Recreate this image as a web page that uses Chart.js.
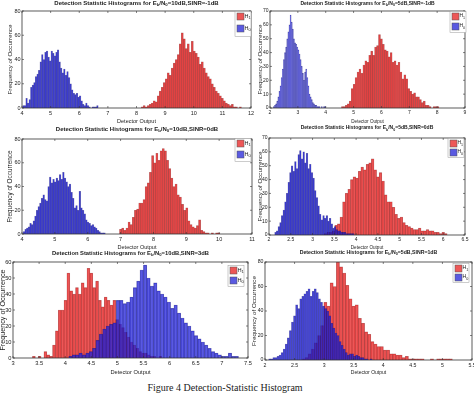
<!DOCTYPE html>
<html>
<head>
<meta charset="utf-8">
<script src="https://cdn.jsdelivr.net/npm/chart.js@4.4.1/dist/chart.umd.min.js"></script>
<style>
  html, body { margin: 0; padding: 0; background: #fff; }
  body { width: 474px; height: 398px; position: relative; overflow: hidden; }
  canvas.panel { position: absolute; }
  #caption {
    position: absolute; left: 0; width: 450px; top: 382px;
    text-align: center; font: 10px "Liberation Serif", "Times New Roman", serif; color: #222;
  }
</style>
</head>
<body>
<div id="caption">Figure 4 Detection-Statistic Histogram</div>
<script>
// ===== data =====
const titles = [
  "Detection Statistic Histograms for E_b/N_0=10dB,SINR=-1dB",
  "Detection Statistic Histograms for E_b/N_0=5dB,SINR=-1dB",
  "Detection Statistic Histograms for E_b/N_0=10dB,SINR=0dB",
  "Detection Statistic Histograms for E_b/N_0=5dB,SINR=0dB",
  "Detection Statistic Histograms for E_b/N_0=10dB,SINR=3dB",
  "Detection Statistic Histograms for E_b/N_0=5dB,SINR=1dB"
];
const legendLabels = ["H_1", "H_0"];
const xLabel = "Detector Output";
const yLabel = "Frequency of Occurrence";

// panel 1 : Eb/N0=10dB, SINR=-1dB
const p1XTicks = [4, 5, 6, 7, 8, 9, 10, 11, 12];
const p1YTicks = [0, 20, 40, 60, 80];
const p1H1Start = 8.2, p1H1Width = 0.07;
const p1H1 = [1,2,1,2,3,4,6,5,10,14,17,21,24,29,27,33,37,40,44,53,62,57,49,53,46,55,47,45,42,36,38,33,29,26,24,20,17,14,12,10,8,6,4,3,2,3,1,1,0,1];
const p1H0Start = 4.05, p1H0Width = 0.055;
const p1H0 = [2,2,8,4,7,17,19,21,26,28,31,38,44,40,46,47,42,39,47,45,43,46,48,38,33,29,32,27,30,25,20,15,12,11,12,9,10,6,3,2,4,2,1,0,1,1,1,2];

// panel 2 : Eb/N0=5dB, SINR=-1dB
const p2XTicks = [2, 3, 4, 5, 6, 7, 8, 9];
const p2YTicks = [0, 10, 20, 30, 40, 50, 60, 70];
const p2H1Start = 4.6, p2H1Width = 0.07;
const p2H1 = [1,1,2,3,5,14,17,22,26,28,25,31,34,33,38,41,38,44,45,53,50,46,42,41,37,40,33,34,31,33,26,21,24,21,14,12,10,11,8,8,6,4,5,2,2,1,0,1,1,1];
const p2H0Start = 2.14, p2H0Width = 0.04;
const p2H0 = [1,2,3,5,8,12,16,22,28,35,40,44,50,55,60,67,62,57,50,47,46,44,42,39,35,30,25,20,26,28,22,16,10,8,6,4,3,2,2,1,1,1,0,1,0,1,1,0];

// panel 3 : Eb/N0=10dB, SINR=0dB
const p3XTicks = [4, 5, 6, 7, 8, 9, 10, 11];
const p3YTicks = [0, 20, 40, 60, 80];
const p3H1Start = 7.0, p3H1Width = 0.065;
const p3H1 = [4,5,3,5,10,8,14,20,21,26,26,29,40,43,52,66,60,68,62,70,72,70,62,55,47,40,42,33,31,25,20,22,11,8,6,5,7,12,3,2,1,1,0,1,0,1,1];
const p3H0Start = 4.06, p3H0Width = 0.05;
const p3H0 = [2,4,5,6,9,8,11,15,20,23,26,30,33,29,28,40,48,43,46,44,47,45,50,46,52,47,44,40,42,35,30,22,24,20,36,22,20,17,12,10,9,7,8,6,5,3,2,1,1,1];

// panel 4 : Eb/N0=5dB, SINR=0dB
const p4XTicks = [2, 2.5, 3, 3.5, 4, 4.5, 5, 5.5, 6, 6.5];
const p4YTicks = [0, 10, 20, 30, 40, 50, 60, 70];
const p4H1Start = 3.3, p4H1Width = 0.06;
const p4H1 = [1,2,2,3,7,8,13,24,30,33,40,42,41,46,49,47,51,52,55,47,42,45,39,29,24,24,20,15,12,13,9,7,6,5,4,4,5,3,3,4,3,3,2,2,1,2,1];
const p4H0Start = 2.15, p4H0Width = 0.038;
const p4H0 = [2,3,6,9,14,18,24,30,38,45,50,46,53,48,58,61,55,60,52,59,48,51,45,41,32,27,21,15,11,14,12,14,10,12,8,5,6,4,3,3,2,2,2,1,1,1,1,1];

// panel 5 : Eb/N0=10dB, SINR=3dB
const p5XTicks = [3, 3.5, 4, 4.5, 5, 5.5, 6, 6.5, 7, 7.5];
const p5YTicks = [0, 10, 20, 30, 40, 50, 60];
const p5H1Start = 3.4, p5H1Width = 0.055;
const p5H1 = [1,0,1,0,4,2,1,8,17,30,30,36,53,42,40,44,40,47,44,56,53,44,48,36,32,38,36,33,36,24,21,19,16,13,10,8,6,4,3,3,2,1,1,0,1];
const p5H0Start = 4.1, p5H0Width = 0.065;
const p5H0 = [1,2,2,3,2,3,4,6,11,15,18,20,21,22,36,36,34,35,38,44,48,55,58,50,45,47,42,40,38,35,31,33,28,25,22,20,17,14,12,10,8,6,4,3,2,1,1,3,1,1];

// panel 6 : Eb/N0=5dB, SINR=1dB
const p6XTicks = [2, 2.5, 3, 3.5, 4, 4.5, 5, 5.5];
const p6YTicks = [0, 20, 40, 60, 80];
const p6H1Start = 2.65, p6H1Width = 0.053;
const p6H1 = [1,2,5,9,14,20,28,47,44,63,60,80,76,71,61,50,44,45,34,30,23,21,15,13,11,11,8,8,5,5,4,4,2,3,1,1,1,1,1,0,0,1,0,1,1,1,1,1];
const p6H0Start = 2.08, p6H0Width = 0.035;
const p6H0 = [1,1,2,2,3,4,6,9,13,18,24,31,36,45,42,50,52,54,56,58,52,56,58,55,50,47,44,42,40,36,30,26,22,20,15,12,9,6,4,5,5,3,4,3,2,2,1,1,0,1];

// ===== styling =====
const FONT = '"Liberation Sans", Arial, sans-serif';
const TEXT = '#222';
const redFill = 'rgba(232,40,40,0.78)', redEdge = 'rgba(120,10,10,0.55)';
const blueFill = 'rgba(35,35,215,0.75)', blueEdge = 'rgba(10,10,110,0.55)';

const bins = (start, width, counts) =>
  counts.map((c, i) => ({ x: +(start + width * i).toFixed(4), y: c }));

// plot rectangle [left, top, right, bottom] in page pixels + text sizes
const panels = [
  { plot: [22, 11, 251, 108], tick: 5.5, xt: 5.5, yt: 6.2, tf: 6, tDy: 7.5, xtDy: 13.7, ytDx: 12, lg: [14, 2, 12],
    xTicks: p1XTicks, yTicks: p1YTicks, h1: bins(p1H1Start, p1H1Width, p1H1), h0: bins(p1H0Start, p1H0Width, p1H0) },
  { plot: [270, 11, 465, 108], tick: 5, xt: 4.6, yt: 6.2, tf: 5, tDy: 7.7, xtDy: 14, ytDx: 9.5, lg: [13, 2, 10],
    xTicks: p2XTicks, yTicks: p2YTicks, h1: bins(p2H1Start, p2H1Width, p2H1), h0: bins(p2H0Start, p2H0Width, p2H0) },
  { plot: [22, 139, 252, 234], tick: 5.5, xt: 5.5, yt: 6.4, tf: 6, tDy: 10, xtDy: 13.5, ytDx: 12, lg: [15, 1, 11],
    xTicks: p3XTicks, yTicks: p3YTicks, h1: bins(p3H1Start, p3H1Width, p3H1), h0: bins(p3H0Start, p3H0Width, p3H0) },
  { plot: [269, 138, 465, 235], tick: 5, xt: 4.6, yt: 6.2, tf: 5, tDy: 10, xtDy: 13, ytDx: 9, lg: [15, 2, 9],
    xTicks: p4XTicks, yTicks: p4YTicks, h1: bins(p4H1Start, p4H1Width, p4H1), h0: bins(p4H0Start, p4H0Width, p4H0) },
  { plot: [13, 262, 248, 358], tick: 5.7, xt: 5.7, yt: 7.2, tf: 5.8, tDy: 9, xtDy: 14, ytDx: 10, lg: [18, 5, 10],
    xTicks: p5XTicks, yTicks: p5YTicks, h1: bins(p5H1Start, p5H1Width, p5H1), h0: bins(p5H0Start, p5H0Width, p5H0) },
  { plot: [265, 262, 472, 360], tick: 5.2, xt: 5, yt: 6.2, tf: 5.2, tDy: 9.5, xtDy: 13, ytDx: 11, lg: [17, 3, 9],
    xTicks: p6XTicks, yTicks: p6YTicks, h1: bins(p6H1Start, p6H1Width, p6H1), h0: bins(p6H0Start, p6H0Width, p6H0) }
];

// text with "_x" subscripts
function drawRich(ctx, text, x, y, size, weight, align) {
  const parts = text.split(/_(\w)/);
  const big = `${weight} ${size}px ${FONT}`;
  const small = `${weight} ${(size * 0.72).toFixed(2)}px ${FONT}`;
  let w = 0;
  parts.forEach((s, i) => { ctx.font = i % 2 ? small : big; w += ctx.measureText(s).width; });
  let cx = align === 'center' ? x - w / 2 : x;
  ctx.textAlign = 'left';
  ctx.textBaseline = 'middle';
  parts.forEach((s, i) => {
    ctx.font = i % 2 ? small : big;
    ctx.fillText(s, cx, y + (i % 2 ? size * 0.3 : 0));
    cx += ctx.measureText(s).width;
  });
}

function makeFrame(p, title) {
  return {
    id: 'frame',
    afterDraw(chart) {
      const { ctx, chartArea: a, scales } = chart;
      ctx.save();
      ctx.strokeStyle = '#333';
      ctx.lineWidth = 0.6;
      ctx.beginPath();
      scales.x.ticks.forEach(t => {
        const px = scales.x.getPixelForValue(t.value);
        ctx.moveTo(px, a.bottom); ctx.lineTo(px, a.bottom - 2);
        ctx.moveTo(px, a.top); ctx.lineTo(px, a.top + 2);
      });
      scales.y.ticks.forEach(t => {
        const py = scales.y.getPixelForValue(t.value);
        ctx.moveTo(a.left, py); ctx.lineTo(a.left + 2, py);
        ctx.moveTo(a.right, py); ctx.lineTo(a.right - 2, py);
      });
      ctx.stroke();
      ctx.lineWidth = 0.8;
      ctx.strokeRect(a.left, a.top, a.right - a.left, a.bottom - a.top);

      // title
      ctx.fillStyle = TEXT;
      drawRich(ctx, title, (a.left + a.right) / 2, a.top - p.tDy, p.tf, 'bold', 'center');

      // legend box (top right, inside the axes)
      const [lx, dy, row] = p.lg;
      const px = a.right - lx, top = a.top + dy;
      ctx.fillStyle = '#fff';
      ctx.fillRect(px - 2, top - 1.5, 16, row * 2 + 1);
      ctx.strokeStyle = '#999';
      ctx.lineWidth = 0.5;
      ctx.strokeRect(px - 2, top - 1.5, 16, row * 2 + 1);
      [[redFill, legendLabels[0]], [blueFill, legendLabels[1]]].forEach(([col, lab], k) => {
        const py = top + k * row;
        ctx.fillStyle = col;
        ctx.fillRect(px, py, 7, 7);
        ctx.strokeStyle = '#555';
        ctx.strokeRect(px, py, 7, 7);
        ctx.fillStyle = TEXT;
        drawRich(ctx, lab, px + 7.5, py + 3, p.tick, 'normal', 'left');
      });
      ctx.restore();
    }
  };
}

function makePanel(p, idx) {
  const ml = 22, mt = 14, mr = 7, mb = 20;
  const [L, T, R, B] = p.plot;
  const cv = document.createElement('canvas');
  cv.className = 'panel';
  cv.width = R - L + ml + mr;
  cv.height = B - T + mt + mb;
  cv.style.left = (L - ml) + 'px';
  cv.style.top = (T - mt) + 'px';
  document.body.appendChild(cv);

  const xMin = p.xTicks[0], xMax = p.xTicks[p.xTicks.length - 1];
  const yMax = p.yTicks[p.yTicks.length - 1];
  const tickFont = { family: FONT, size: p.tick };
  const xtLh = p.xt * 1.2, ytLh = p.yt * 1.2;

  new Chart(cv, {
    type: 'bar',
    data: {
      datasets: [
        { label: 'H0', data: p.h0, xAxisID: 'x2', backgroundColor: blueFill, borderColor: blueEdge,
          borderWidth: 0.5, barPercentage: 1, categoryPercentage: 1, grouped: false },
        { label: 'H1', data: p.h1, xAxisID: 'x', backgroundColor: redFill, borderColor: redEdge,
          borderWidth: 0.5, barPercentage: 1, categoryPercentage: 1, grouped: false }
      ]
    },
    options: {
      responsive: false,
      animation: false,
      layout: { padding: { left: 0, top: mt, right: mr, bottom: 0 } },
      plugins: { legend: { display: false }, tooltip: { enabled: false }, title: { display: false } },
      scales: {
        x: {
          type: 'linear', min: xMin, max: xMax, offset: false,
          grid: { display: false, drawTicks: false, tickLength: 0 }, border: { display: false },
          afterBuildTicks: s => { s.ticks = p.xTicks.map(v => ({ value: v })); },
          ticks: { font: tickFont, color: TEXT, padding: 2, autoSkip: false, maxRotation: 0, minRotation: 0,
                   callback: v => String(v) },
          title: { display: true, text: xLabel, color: TEXT, font: { family: FONT, size: p.xt },
                   padding: { top: 0, bottom: mb - p.xtDy - xtLh / 2 } },
          afterFit: s => { s.height = mb; }
        },
        x2: { type: 'linear', display: false, min: xMin, max: xMax, offset: false },
        y: {
          min: 0, max: yMax,
          grid: { display: false, drawTicks: false, tickLength: 0 }, border: { display: false },
          afterBuildTicks: s => { s.ticks = p.yTicks.map(v => ({ value: v })); },
          ticks: { font: tickFont, color: TEXT, padding: 1.5, callback: v => String(v) },
          title: { display: true, text: yLabel, color: TEXT, font: { family: FONT, size: p.yt },
                   padding: { top: ml - p.ytDx - ytLh / 2, bottom: 0 } },
          afterFit: s => { s.width = ml; }
        }
      }
    },
    plugins: [makeFrame(p, titles[idx])]
  });
}

panels.forEach(makePanel);
</script>
</body>
</html>
